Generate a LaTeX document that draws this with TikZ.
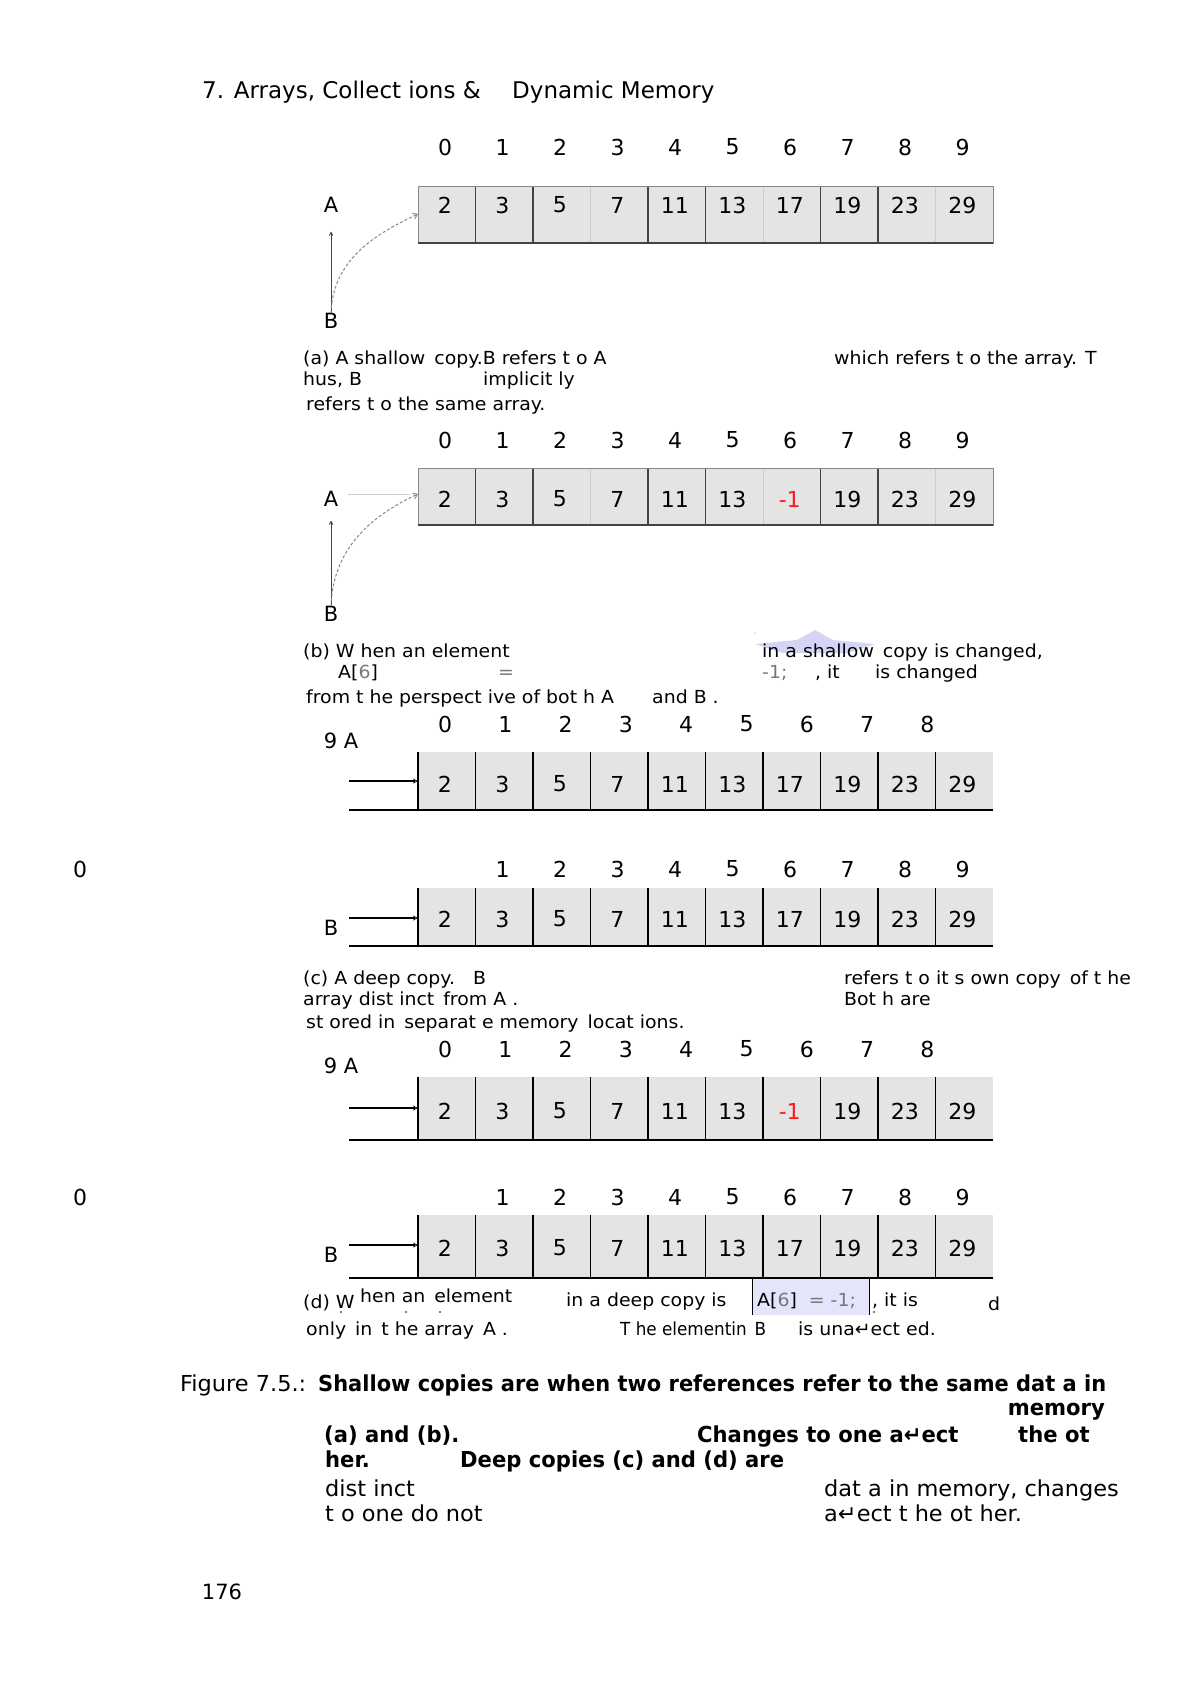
\documentclass[tikz,border=0pt]{standalone}
\usepackage{graphicx}
\usepackage{fontspec}
\setmainfont{DejaVu Sans}
\newfontfamily\capf[FakeStretch=1.05]{DejaVu Sans}
\newfontfamily\figrf[FakeStretch=1.02]{DejaVu Sans}
\newfontfamily\figbf[FakeStretch=0.96]{DejaVu Sans}
\usetikzlibrary{arrows.meta}
\definecolor{cellfill}{HTML}{E4E4E4}
\definecolor{darkline}{HTML}{444444}
\definecolor{midline}{HTML}{888888}
\definecolor{lightline}{HTML}{CCCCCC}
\definecolor{redv}{HTML}{FF1A1A}
\definecolor{codegray}{HTML}{777777}
\definecolor{hilite}{HTML}{E4E4FA}
\definecolor{starblue}{HTML}{D4D4F4}
\tikzset{
  ttltxt/.style={font=\fontsize{23}{27}\selectfont, anchor=base west, inner sep=0pt},
  idxtxt/.style={font=\fontsize{22}{26}\selectfont, inner sep=0pt},
  valtxt/.style={font=\fontsize{22}{26}\selectfont, inner sep=0pt},
  labtxt/.style={font=\fontsize{21}{25}\selectfont, inner sep=0pt},
  captxt/.style={font=\capf\fontsize{18}{22}\selectfont, anchor=base west, inner sep=0pt},
  figrtxt/.style={font=\figrf\fontsize{22}{26}\selectfont, anchor=base west, inner sep=0pt},
  figbtxt/.style={font=\figbf\bfseries\fontsize{22}{26}\selectfont, anchor=base west, inner sep=0pt},
  refline/.style={darkline, line width=1pt},
  refcurve/.style={midline, line width=1pt, dash pattern=on 3pt off 2pt},
  ptrline/.style={black, line width=2pt},
}
% shallow-style array: prefix, top, bottom, value y, value of cell 6
\newcommand\ArrShallow[5]{%
  \fill[cellfill] (418,#2) rectangle (993,#3);
  \foreach \i in {3,6,9} \draw[lightline, line width=0.8pt] ({418+57.5*\i},#2) -- ({418+57.5*\i},#3);
  \foreach \i in {1,2,4,5,7,8} \draw[darkline, line width=1.3pt] ({418+57.5*\i},#2) -- ({418+57.5*\i},#3);
  \draw[midline, line width=1pt] (418,#2) rectangle (993,#3);
  \draw[darkline, line width=1.6pt] (418,#3) -- (993,#3);
  \draw[darkline, line width=2.2pt] (418,#3) -- (475.5,#3);
  \foreach \v [count=\i from 0] in {2,3,5,7,11,13,{#5},19,23,29}
    \node[valtxt] (#1v\i) at ({418+57.5*\i+26.75},#4) {\v};
}
% deep-style array: prefix, top, bottom, value y, value of cell 6
\newcommand\ArrDeep[5]{%
  \fill[cellfill] (418,#2) rectangle (993,#3);
  \foreach \i in {1,...,9} \draw[black, line width=1.6pt] ({418+57.5*\i},#2) -- ({418+57.5*\i},#3);
  \draw[black, line width=2.2pt] (418,#2) -- (418,#3);
  \draw[black, line width=2.4pt] (349,#3) -- (993,#3);
  \foreach \v [count=\i from 0] in {2,3,5,7,11,13,{#5},19,23,29}
    \node[valtxt] (#1v\i) at ({418+57.5*\i+26.75},#4) {\v};
}
\newcommand\IdxFull[2]{% prefix, y : 0..9 on cell centres
  \foreach \d in {0,...,9}
    \node[idxtxt] (#1i\d) at ({418+57.5*\d+27},#2) {\d};
}
\newcommand\IdxShift[2]{% prefix, y : 0..8 with wider spacing
  \foreach \d in {0,...,8}
    \node[idxtxt] (#1i\d) at ({445+60.3*\d},#2) {\d};
}
\newcommand\IdxTail[2]{% prefix, y : 1..9 on cell centres
  \foreach \d in {1,...,9}
    \node[idxtxt] (#1i\d) at ({418+57.5*\d+27},#2) {\d};
}
\begin{document}
\begin{tikzpicture}[x=1pt,y=-1pt]
\useasboundingbox (0,0) rectangle (1200,1698);
\fill[white] (0,0) rectangle (1200,1698);

% ---------- title ----------
\node[ttltxt] (title1) at (202,98) {7. Arrays, Collect ions \&};
\node[ttltxt] (title2) at (512,98) {Dynamic Memory};

% ---------- (a) ----------
\IdxFull{a}{147}
\ArrShallow{a}{186}{243}{205}{17}
\node[labtxt] (aA) at (331,205) {A};
\node[labtxt] (aB) at (331,321) {B};
\coordinate (aIn) at (418,214);
\draw[refline, -{To[length=4pt,width=4pt]}, shorten >=19pt] (aB.north) -- (aA.south);
\draw[refcurve, -{Straight Barb[length=4pt,width=6pt]}] (aB.north) to[out=88,in=205] (aIn);

\node[captxt] (acap1) at (303,364) {(a) A shallow\, copy.B refers t o A};
\node[captxt] (acap2) at (834,364) {which refers t o the array. T};
\node[captxt] (acap3) at (303,385) {hus, B};
\node[captxt] (acap4) at (483,385) {implicit ly};
\node[captxt] (acap5) at (306,410) {refers t o the same array.};

% ---------- (b) ----------
\IdxFull{b}{440}
\ArrShallow{b}{468}{525}{499}{\textcolor{redv}{-1}}
\node[labtxt] (bA) at (331,499) {A};
\node[labtxt] (bB) at (331,614) {B};
\coordinate (bIn) at (418,494);
\coordinate (bAe) at (348,494);
\draw[lightline, line width=1pt, shorten >=8pt] (bAe) -- (bIn);
\draw[refline, -{To[length=4pt,width=4pt]}, shorten >=14pt] (bB.north) -- (bA.south);
\draw[refcurve, -{Straight Barb[length=4pt,width=6pt]}] (bB.north) to[out=88,in=205] (bIn);

% faint star behind the caption
\fill[starblue] (755,644) -- (797,640) -- (815,630) -- (833,640) -- (875,644) -- (848,653) -- (782,653) -- cycle;
\fill[starblue] (755,633) circle (1pt);
\node[captxt] (bcap1) at (303,657) {(b) W hen an element};
\node[captxt] (bcap2) at (762,657) {in a shallow\, copy is changed,};
\node[captxt] (bcap3) at (338,678) {A[\textcolor{codegray}{6}]};
\node[captxt] (bcap4) at (498,678) {\textcolor{codegray}{=}};
\node[captxt] (bcap5) at (762,678) {\textcolor{codegray}{-1;}};
\node[captxt] (bcap6) at (815,678) {, it};
\node[captxt] (bcap7) at (875,678) {is changed};
\node[captxt] (bcap8) at (306,703) {from t he perspect ive of bot h A};
\node[captxt] (bcap9) at (652,703) {and B .};

% ---------- (c) ----------
\IdxShift{c}{724}
\node[labtxt] (c9A) at (341,741) {9 A};
\ArrDeep{c}{752}{810}{784}{17}
\coordinate (cAs) at (349,781);
\coordinate (cAe) at (418,781);
\draw[ptrline, -{Stealth[open,length=5pt,width=5pt,line width=0.6pt]}] (cAs) -- (cAe);

\node[idxtxt] (c0) at (80,869) {0};
\IdxTail{cb}{869}
\ArrDeep{cb}{888}{946}{919}{17}
\node[labtxt] (cB) at (331,928) {B};
\coordinate (cBs) at (349,918);
\coordinate (cBe) at (418,918);
\draw[ptrline, -{Stealth[open,length=5pt,width=5pt,line width=0.6pt]}] (cBs) -- (cBe);

\node[captxt] (ccap1) at (303,984) {(c) A deep copy.\quad B};
\node[captxt] (ccap2) at (844,984) {refers t o it s own copy\, of t he};
\node[captxt] (ccap3) at (303,1005) {array dist inct\, from A .};
\node[captxt] (ccap4) at (844,1005) {Bot h are};
\node[captxt] (ccap5) at (306,1028) {st ored in\, separat e memory\, locat ions.};

% ---------- (d) ----------
\IdxShift{d}{1049}
\node[labtxt] (d9A) at (341,1066) {9 A};
\ArrDeep{d}{1077}{1140}{1111}{\textcolor{redv}{-1}}
\coordinate (dAs) at (349,1108);
\coordinate (dAe) at (418,1108);
\draw[ptrline, -{Stealth[open,length=5pt,width=5pt,line width=0.6pt]}] (dAs) -- (dAe);

\node[idxtxt] (d0) at (80,1197) {0};
\IdxTail{db}{1197}
\ArrDeep{db}{1215}{1278}{1248}{17}
\node[labtxt] (dB) at (331,1255) {B};
\coordinate (dBs) at (349,1245);
\coordinate (dBe) at (418,1245);
\draw[ptrline, -{Stealth[open,length=5pt,width=5pt,line width=0.6pt]}] (dBs) -- (dBe);

% highlighted code box
\fill[hilite] (752.5,1279) rectangle (869.5,1315);
\draw[black, line width=1.8pt] (752.5,1279) -- (752.5,1315);
\draw[black, line width=1.8pt] (869.5,1279) -- (869.5,1315);
\node[captxt] (dcode) at (757,1306) {A[\textcolor{codegray}{6}]\,\, \textcolor{codegray}{= -1;}};

\node[captxt] (dcap1) at (303,1308) {(d) W};
\node[captxt] (dcap2) at (360,1302) {hen an\, element};
\node[captxt] (dcap3) at (566,1306) {in a deep copy is};
\node[captxt] (dcap4) at (872,1306) {, it is};
\node[captxt] (dcap5) at (988,1310) {d};
\fill (341,1312) circle (0.8pt) (406,1312) circle (0.8pt) (440,1312) circle (0.8pt) (874,1312) circle (0.8pt);
\node[captxt] (dcap6) at (306,1335) {only\, in\, t he array\, A .};
\node[captxt] (dcap7) at (620,1335) {\resizebox{146pt}{\height}{T he elementin\, B}};
\node[captxt] (dcap8) at (798,1335) {is una\symbol{"21B5}ect ed.};

% ---------- figure caption ----------
\node[figrtxt] (fig1) at (180,1391) {Figure 7.5.:};
\node[figbtxt] (fig2) at (318,1391) {\resizebox{788pt}{\height}{Shallow copies are when two references refer to the same dat a in}};
\node[figbtxt, anchor=base east] (fig3) at (1105,1415) {memory};
\node[figbtxt] (fig4) at (324,1442) {(a) and (b).};
\node[figbtxt] (fig5) at (697,1442) {Changes to one a\symbol{"21B5}ect};
\node[figbtxt] (fig6) at (1018,1442) {the ot};
\node[figbtxt] (fig7) at (325,1467) {her.};
\node[figbtxt] (fig8) at (460,1467) {Deep copies (c) and (d) are};
\node[figrtxt] (fig9) at (325,1496) {dist inct};
\node[figrtxt] (fig10) at (824,1496) {dat a in memory, changes};
\node[figrtxt] (fig11) at (325,1521) {t o one do not};
\node[figrtxt] (fig12) at (824,1521) {a\symbol{"21B5}ect t he ot her.};

\node[labtxt] (pageno) at (222,1592) {176};
\end{tikzpicture}
\end{document}
